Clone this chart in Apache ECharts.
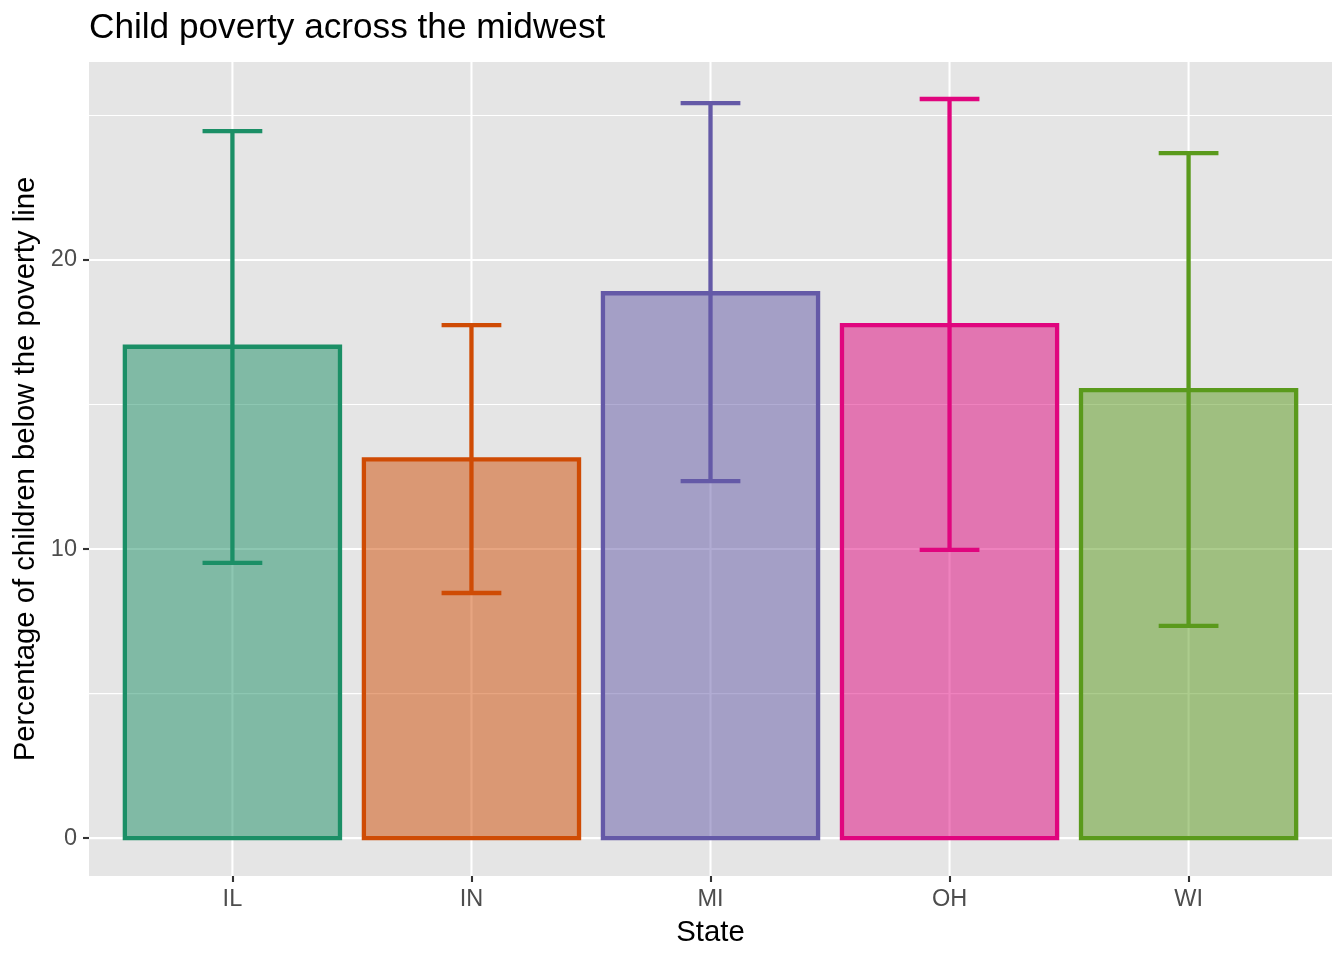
<!DOCTYPE html>
<html>
<head>
<meta charset="utf-8">
<script src="https://cdn.jsdelivr.net/npm/echarts@6/dist/echarts.min.js"></script>
<style>
html,body{margin:0;padding:0;background:#fff;}
#chart{width:1344px;height:960px;}
</style>
</head>
<body>
<div id="chart"></div>
<script>
// ---- data ----
var states = ['IL', 'IN', 'MI', 'OH', 'WI'];
var pctPoverty = [17.0, 13.1, 18.85, 17.75, 15.5];
var errLow = [9.52, 8.48, 12.35, 9.97, 7.34];
var errHigh = [24.46, 17.75, 25.43, 25.57, 23.70];
var yTicks = [0, 10, 20];
var yMinor = [5, 15, 25];
var colors = ['#1B8F66', '#CF4B04', '#6459A7', '#E0057E', '#5A9A1C'];

var FONT = '"Liberation Sans", Arial, Helvetica, sans-serif';
var chart = echarts.init(document.getElementById('chart'));

var xIdx = states.map(function (s, i) { return i; });

function hexToRgba(hex, a) {
  var r = parseInt(hex.slice(1, 3), 16), g = parseInt(hex.slice(3, 5), 16), b = parseInt(hex.slice(5, 7), 16);
  return 'rgba(' + r + ',' + g + ',' + b + ',' + a + ')';
}

var hLines = yTicks.map(function (v) { return [v, 1]; }).concat(yMinor.map(function (v) { return [v, 0]; }));
var vLines = xIdx.map(function (i) { return [i]; });

var option = {
  animation: false,
  backgroundColor: '#ffffff',
  title: {
    text: 'Child poverty across the midwest',
    left: 84, top: 6,
    textStyle: { fontFamily: FONT, fontSize: 35.2, fontWeight: 'normal', color: '#000000' }
  },
  grid: {
    left: 89, right: 12, top: 62, bottom: 84,
    show: true, backgroundColor: '#E5E5E5', borderWidth: 0
  },
  xAxis: {
    type: 'value', min: -0.6, max: 4.6,
    name: 'State', nameLocation: 'middle', nameGap: 42,
    nameTextStyle: { fontFamily: FONT, fontSize: 29.3, color: '#000000' },
    axisLine: { show: false, onZero: false },
    splitLine: { show: false },
    axisTick: { show: true, customValues: xIdx, length: 6, lineStyle: { color: '#333333', width: 2.1 } },
    axisLabel: {
      show: true, customValues: xIdx, margin: 12,
      fontFamily: FONT, fontSize: 23.5, color: '#4D4D4D',
      formatter: function (v) { return states[Math.round(v)]; }
    }
  },
  yAxis: {
    type: 'value', min: -1.31, max: 26.85,
    name: 'Percentage of children below the poverty line', nameLocation: 'middle', nameGap: 46,
    nameTextStyle: { fontFamily: FONT, fontSize: 29.3, color: '#000000' },
    axisLine: { show: false, onZero: false },
    splitLine: { show: false },
    axisTick: { show: true, customValues: yTicks, length: 6, lineStyle: { color: '#333333', width: 2.1 } },
    axisLabel: {
      show: true, customValues: yTicks, margin: 12,
      fontFamily: FONT, fontSize: 23.5, color: '#4D4D4D'
    }
  },
  series: [
    {
      type: 'custom', name: 'hgrid', silent: true, z: 1,
      data: hLines,
      encode: { y: 0 },
      renderItem: function (params, api) {
        var cs = params.coordSys;
        var y = api.coord([0, api.value(0)])[1];
        var major = api.value(1) === 1;
        return {
          type: 'line',
          shape: { x1: cs.x, y1: y, x2: cs.x + cs.width, y2: y },
          style: { stroke: '#ffffff', lineWidth: major ? 2.1 : 1.05 }
        };
      }
    },
    {
      type: 'custom', name: 'vgrid', silent: true, z: 1,
      data: vLines,
      encode: { x: 0 },
      renderItem: function (params, api) {
        var cs = params.coordSys;
        var x = api.coord([api.value(0), 0])[0];
        return {
          type: 'line',
          shape: { x1: x, y1: cs.y, x2: x, y2: cs.y + cs.height },
          style: { stroke: '#ffffff', lineWidth: 2.1 }
        };
      }
    },
    {
      type: 'custom', name: 'bars', z: 2,
      data: xIdx.map(function (i) { return [i, pctPoverty[i]]; }),
      encode: { x: 0, y: 1 },
      renderItem: function (params, api) {
        var i = api.value(0);
        var p0 = api.coord([i - 0.45, 0]);
        var p1 = api.coord([i + 0.45, api.value(1)]);
        var c = colors[params.dataIndex];
        return {
          type: 'rect',
          shape: { x: p0[0], y: p1[1], width: p1[0] - p0[0], height: p0[1] - p1[1] },
          style: { fill: hexToRgba(c, 0.5), stroke: c, lineWidth: 4.3 }
        };
      }
    },
    {
      type: 'custom', name: 'errorbars', z: 3,
      data: xIdx.map(function (i) { return [i, errLow[i], errHigh[i]]; }),
      encode: { x: 0, y: [1, 2] },
      renderItem: function (params, api) {
        var i = api.value(0);
        var lo = api.coord([i, api.value(1)]);
        var hi = api.coord([i, api.value(2)]);
        var l = api.coord([i - 0.125, 0])[0];
        var r = api.coord([i + 0.125, 0])[0];
        var c = colors[params.dataIndex];
        var st = { stroke: c, lineWidth: 4.3, lineCap: 'butt' };
        return {
          type: 'group',
          children: [
            { type: 'line', shape: { x1: lo[0], y1: lo[1], x2: hi[0], y2: hi[1] }, style: st },
            { type: 'line', shape: { x1: l, y1: lo[1], x2: r, y2: lo[1] }, style: st },
            { type: 'line', shape: { x1: l, y1: hi[1], x2: r, y2: hi[1] }, style: st }
          ]
        };
      }
    }
  ]
};
chart.setOption(option);
</script>
</body>
</html>
